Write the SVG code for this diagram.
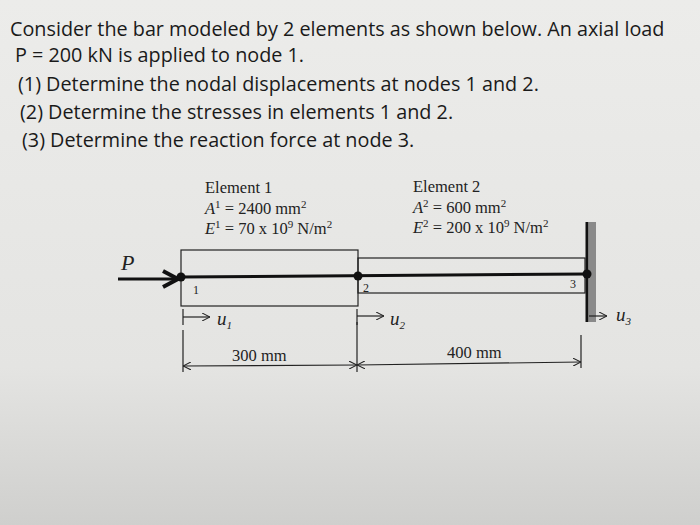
<svg xmlns="http://www.w3.org/2000/svg" width="700" height="525" viewBox="0 0 700 525">
<defs>
<linearGradient id="bg" x1="0" y1="0" x2="0" y2="1"><stop offset="0" stop-color="#ececea"/><stop offset="0.7" stop-color="#e4e4e2"/><stop offset="1" stop-color="#cfcfcd"/></linearGradient>
<marker id="ah" viewBox="0 0 10 10" refX="10" refY="5" markerWidth="8" markerHeight="8" orient="auto-start-reverse" markerUnits="userSpaceOnUse"><path d="M0,0 L10,5 L0,10" fill="none" stroke="#222" stroke-width="1.3"/></marker>
</defs>
<style>
.q{font-family:"Open Sans","Liberation Sans",sans-serif;font-size:19.8px;fill:#1a1a1a}
.s{font-family:"Liberation Serif",serif;font-size:16.5px;fill:#222}
.n{font-size:12px}
.u{font-size:19px;font-style:italic}
.sup{font-size:11px}
.i{font-style:italic}
.l{stroke:#222;stroke-width:1.2;fill:none}
</style>
<rect width="700" height="525" fill="url(#bg)"/>
<g id="question">
<text class="q" x="10" y="36">Consider the bar modeled by 2 elements as shown below. An axial load</text>
<text class="q" x="15" y="62">P = 200 kN is applied to node 1.</text>
<text class="q" x="18" y="91">(1) Determine the nodal displacements at nodes 1 and 2.</text>
<text class="q" x="20" y="119">(2) Determine the stresses in elements 1 and 2.</text>
<text class="q" x="22" y="147">(3) Determine the reaction force at node 3.</text>
</g>
<g id="labels">
<text class="s" x="205" y="193">Element 1</text>
<text class="s" x="205" y="214"><tspan class="i">A</tspan><tspan class="sup" dy="-6">1</tspan><tspan dy="6"> = 2400 mm</tspan><tspan class="sup" dy="-6">2</tspan></text>
<text class="s" x="205" y="234"><tspan class="i">E</tspan><tspan class="sup" dy="-6">1</tspan><tspan dy="6"> = 70 x 10</tspan><tspan class="sup" dy="-6">9</tspan><tspan dy="6"> N/m</tspan><tspan class="sup" dy="-6">2</tspan></text>
<text class="s" x="413" y="192">Element 2</text>
<text class="s" x="413" y="213"><tspan class="i">A</tspan><tspan class="sup" dy="-6">2</tspan><tspan dy="6"> = 600 mm</tspan><tspan class="sup" dy="-6">2</tspan></text>
<text class="s" x="413" y="233"><tspan class="i">E</tspan><tspan class="sup" dy="-6">2</tspan><tspan dy="6"> = 200 x 10</tspan><tspan class="sup" dy="-6">9</tspan><tspan dy="6"> N/m</tspan><tspan class="sup" dy="-6">2</tspan></text>
</g>
<g id="element1"><rect x="181" y="250" width="177" height="56" class="l"/></g>
<g id="element2"><rect x="358" y="258" width="227" height="35" class="l"/></g>
<g id="wall"><rect x="589" y="222" width="7" height="100" fill="#8a8a8a"/><line x1="587" y1="222" x2="587" y2="322" stroke="#111" stroke-width="3"/></g>
<g id="connectors">
<line x1="181" y1="277" x2="587" y2="274" stroke="#111" stroke-width="3"/>
<line x1="118" y1="279" x2="176" y2="279" stroke="#111" stroke-width="3"/>
<path d="M163,271 L178,279 L163,287" fill="none" stroke="#111" stroke-width="4"/>
<line x1="183" y1="309" x2="183" y2="325" class="l"/><line x1="183" y1="317" x2="210" y2="317" class="l" marker-end="url(#ah)"/>
<line x1="357" y1="309" x2="357" y2="325" class="l"/><line x1="357" y1="316" x2="384" y2="316" class="l" marker-end="url(#ah)"/>
<line x1="589" y1="316" x2="607" y2="316" class="l" marker-end="url(#ah)"/>
<line x1="183" y1="330" x2="183" y2="372" class="l"/>
<line x1="357" y1="322" x2="357" y2="372" class="l"/>
<line x1="581" y1="335" x2="581" y2="368" class="l"/>
<line x1="183" y1="366" x2="357" y2="365" class="l" marker-start="url(#ah)" marker-end="url(#ah)"/>
<line x1="357" y1="365" x2="581" y2="362" class="l" marker-start="url(#ah)" marker-end="url(#ah)"/>
</g>
<g id="nodes">
<circle cx="181" cy="277" r="4.5" fill="#111"/><circle cx="358" cy="276" r="4.5" fill="#111"/><circle cx="587" cy="274" r="4.5" fill="#111"/>
<text class="s n" x="193" y="294">1</text>
<text class="s n" x="363" y="292">2</text>
<text class="s n" x="570" y="288">3</text>
<text class="s" x="121" y="270" style="font-size:22px;font-style:italic">P</text>
<text class="s u" x="217" y="325">u<tspan class="sup" dy="4">1</tspan></text>
<text class="s u" x="390" y="325">u<tspan class="sup" dy="4">2</tspan></text>
<text class="s u" x="616" y="321">u<tspan class="sup" dy="4">3</tspan></text>
<text class="s" x="232" y="361">300 mm</text>
<text class="s" x="447" y="358">400 mm</text>
</g>
</svg>
